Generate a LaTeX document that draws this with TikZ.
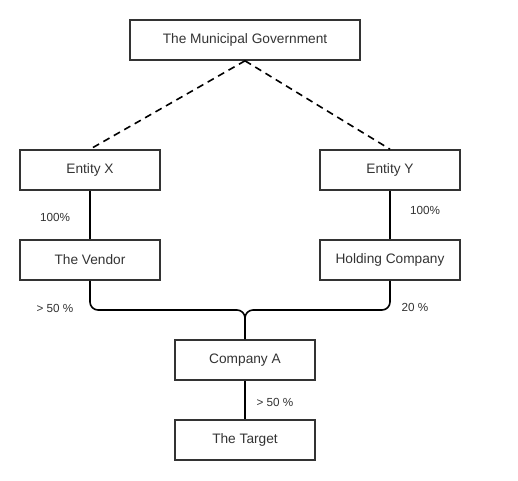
\documentclass[tikz,border=0pt]{standalone}
\usepackage{fontspec}
\setmainfont{Liberation Sans}
\begin{document}
\begin{tikzpicture}[x=1pt,y=-1pt,
  box/.style={draw=black!80, line width=1.6pt, minimum height=40pt, minimum width=140pt, inner sep=0pt, text=black!80, font=\fontsize{13.7}{16}\selectfont},
  lbl/.style={text=black!80, inner sep=0pt, font=\fontsize{11.7}{14}\selectfont},
  link/.style={draw=black, line width=1.6pt},
  dashlink/.style={draw=black, line width=1.6pt, dash pattern=on 7pt off 5pt}]
\useasboundingbox (0,0) rectangle (518,480);
\node[box, minimum width=230pt] (gov) at (245,40) {The Municipal Government};
\node[box] (ex) at (90,170) {Entity X};
\node[box] (ey) at (390,170) {Entity Y};
\node[box] (ven) at (90,260) {The Vendor};
\node[box] (hold) at (390,260) {Holding Company};
\node[box] (ca) at (245,360) {Company A};
\node[box] (tgt) at (245,440) {The Target};
\coordinate (j) at (245,310);
\draw[dashlink] (gov.south) -- (ex.north);
\draw[dashlink] (gov.south) -- (ey.north);
\draw[link] (ex) -- (ven);
\draw[link] (ey) -- (hold);
\draw[link, rounded corners=8pt] (ven.south) |- (j) -- (ca.north);
\draw[link, rounded corners=8pt] (hold.south) |- (j) -- (ca.north);
\draw[link] (ca) -- (tgt);
\node[lbl] (l1) at (55,217) {100\%};
\node[lbl] (l2) at (425,210) {100\%};
\node[lbl] (l3) at (55,308) {> 50 \%};
\node[lbl] (l4) at (415,307) {20 \%};
\node[lbl] (l5) at (275,402) {> 50 \%};
\end{tikzpicture}
\end{document}
